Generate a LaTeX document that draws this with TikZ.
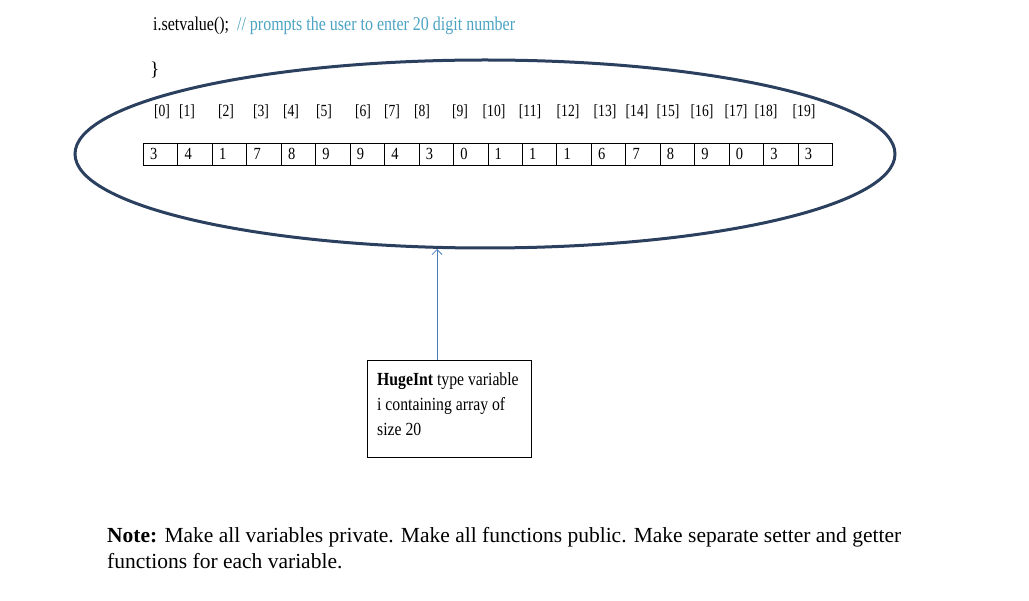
\documentclass[tikz,border=0pt]{standalone}
\usepackage{fontspec}
\usetikzlibrary{arrows.meta}
\setmainfont{Liberation Serif}
\definecolor{ell}{HTML}{2B3F5E}
\definecolor{cmt}{HTML}{4BA3C3}
\definecolor{arr}{HTML}{4A7EBB}
\begin{document}
\begin{tikzpicture}[x=1pt,y=-1pt,
  cell/.style={draw,minimum width=34.45pt,minimum height=22pt,inner sep=0pt,anchor=west},
  dig/.style={anchor=west,inner sep=0pt,font=\fontsize{17}{17}\selectfont\addfontfeature{FakeStretch=0.85}},
  idx/.style={font=\fontsize{17}{17}\selectfont\addfontfeature{FakeStretch=0.8}},
  txt/.style={anchor=west,inner sep=0pt}]
\useasboundingbox (0,0) rectangle (1029,601);
\node[txt,font=\fontsize{19.5}{19.5}\selectfont\addfontfeature{FakeStretch=0.82}] (code) at (153,26) {i.setvalue();\ \ \textcolor{cmt}{// prompts the user to enter 20 digit number}};
\node[txt,font=\fontsize{19.5}{19.5}\selectfont] (brace) at (150,70) {\}};
\draw[ell,line width=3pt] (485,154) ellipse [x radius=410, y radius=94];
\foreach \v [count=\i from 0] in {3,4,1,7,8,9,9,4,3,0,1,1,1,6,7,8,9,0,3,3}{
  \node[cell] (c\i) at ({143+\i*34.45},154) {};
  \node[dig] (d\i) at ([xshift=7pt]c\i.west) {\v};}
\foreach \x [count=\i from 0] in {162,187,226,261,291,324,363,392,422,460,494,530,568,605,637,668,702,736,766,804}
  \node[idx] (i\i) at (\x,112) {[\i]};
\node[draw,thick,minimum width=164pt,minimum height=97pt,inner sep=0pt] (box) at (449,408.5) {};
\node[txt,align=left,font=\fontsize{18.5}{25}\selectfont\addfontfeature{FakeStretch=0.85}] (boxt) at (377,404) {\textbf{HugeInt} type variable\\i containing array of\\size 20};
\coordinate (tip) at (437,249);
\draw[arr,thick,-{Straight Barb[length=5pt]}] (box.north -| tip) -- (tip);
\node[txt,align=left,font=\fontsize{21.5}{26}\selectfont] (note) at (107,548) {\textbf{Note:} Make all variables private. Make all functions public. Make separate setter and getter\\functions for each variable.};
\end{tikzpicture}
\end{document}
